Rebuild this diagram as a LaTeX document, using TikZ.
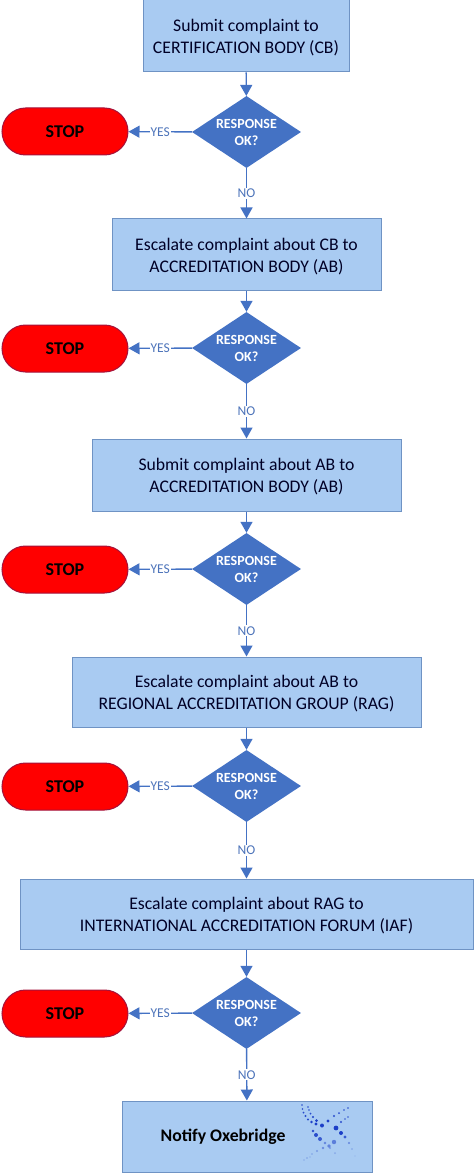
\documentclass[tikz,border=0pt]{standalone}
\usepackage{fontspec}
\setmainfont{Carlito}
\usetikzlibrary{shapes.geometric,shapes.misc,arrows.meta}
\definecolor{boxfill}{HTML}{A9CBF2}
\definecolor{boxline}{HTML}{6F93C4}
\definecolor{flow}{HTML}{4472C4}
\definecolor{stopline}{HTML}{A5123A}
\definecolor{logoblue}{HTML}{1C3FC8}
\newcommand{\lowerfirst}{\rule{0pt}{15.5pt}}
\tikzset{
  procbox/.style={draw=boxline,fill=boxfill,line width=1pt,minimum height=71pt,align=center,font=\fontsize{17.7}{22}\selectfont,text=black!85!blue,inner sep=0pt},
  decide/.style={diamond,aspect=1.5,fill=flow,minimum width=109pt,minimum height=72pt,inner sep=0pt,align=center,text=white,font=\bfseries\fontsize{14}{17}\selectfont},
  stopbox/.style={rounded rectangle,draw=stopline,fill=red,line width=1pt,minimum width=126pt,minimum height=47pt,inner sep=0pt,font=\bfseries\fontsize{18}{20}\selectfont,text=black},
  link/.style={draw=flow,line width=1.4pt,-{Triangle[length=11pt,width=12pt]}},
  lab/.style={fill=white,inner sep=1pt,text=flow!85!gray,font=\fontsize{13.5}{15}\selectfont},
}
\begin{document}
\begin{tikzpicture}[x=1pt,y=-1pt]
\useasboundingbox (0,0) rectangle (474,1174);
\node[procbox,minimum width=206pt,minimum height=72pt] (b1) at (246,36) {\lowerfirst Submit complaint to\\CERTIFICATION BODY (CB)};
\node[decide] (d1) at (246.5,132) {RESPONSE\\OK?};
\node[stopbox] (s1) at (65,131.5) {STOP};
\node[procbox,minimum width=269pt] (b2) at (246.5,254.5) {\lowerfirst Escalate complaint about CB to\\ACCREDITATION BODY (AB)};
\node[decide] (d2) at (246.5,348) {RESPONSE\\OK?};
\node[stopbox] (s2) at (65,348.5) {STOP};
\node[procbox,minimum width=309pt,minimum height=72pt] (b3) at (246.5,475) {\lowerfirst Submit complaint about AB to\\ACCREDITATION BODY (AB)};
\node[decide] (d3) at (246.5,569) {RESPONSE\\OK?};
\node[stopbox] (s3) at (65,569.5) {STOP};
\node[procbox,minimum width=349pt,minimum height=70pt] (b4) at (246.5,692) {\lowerfirst Escalate complaint about AB to\\REGIONAL ACCREDITATION GROUP (RAG)};
\node[decide] (d4) at (246.5,786) {RESPONSE\\OK?};
\node[stopbox] (s4) at (65,786.5) {STOP};
\node[procbox,minimum width=453pt,minimum height=70pt] (b5) at (246.5,914) {\lowerfirst Escalate complaint about RAG to\\INTERNATIONAL ACCREDITATION FORUM (IAF)};
\node[decide] (d5) at (246.5,1013) {RESPONSE\\OK?};
\node[stopbox] (s5) at (65,1013.5) {STOP};
\node[procbox,minimum width=250pt,minimum height=71pt,font=\bfseries\fontsize{17.7}{20}\selectfont,text=black] (b6) at (247,1136.5) {\makebox[0pt]{\hspace{-48pt}Notify Oxebridge}};
\foreach \i/\j in {1/2,2/3,3/4,4/5,5/6}{
  \draw[link] (b\i) -- (d\i);
  \draw[link] (d\i) -- node[lab] (y\i) {YES} (s\i);
  \draw[link] (d\i) -- node[lab,pos=.5] (n\i) {NO} (b\j);
}
\foreach \x/\y/\r/\o in {
 302/1105/.8/.9, 302.5/1109/.9/.9, 303.5/1112.5/1/.9, 305.5/1116/1.1/.9, 308/1119.5/1.2/.9, 311.5/1122/1.4/1, 316/1124/1.7/1, 322/1125.5/2/1,
 308/1107/.8/.9, 309/1110/.9/.9, 310.5/1113.5/1/.9, 313/1117/1.2/1, 316.5/1120.5/1.5/1,
 348/1108/.8/.9, 344/1110/.9/.9, 339/1113/1/.9, 334/1116/1.1/.9, 328/1121/1.6/1,
 348/1117/.8/.8, 345/1119/.9/.8, 341/1122/1.1/.9, 336/1128/2.4/1, 341/1133/2/1, 345/1137/1.6/.8, 349/1143/1.1/.5, 352/1149/.9/.3, 355/1156/.7/.2,
 313/1131/1.4/.9, 316/1135/2/.9, 320/1139/2/.8, 325/1143/1.4/.5, 330/1148/1.2/.35, 335/1153/1/.25,
 334/1142/2.2/.55, 329/1146/1.9/.5, 323/1148/1.4/.45, 317/1151/1.1/.35, 312/1154/.9/.3, 307/1158/.8/.3,
 304/1160/.7/.45, 310/1157/.7/.35}{
  \fill[logoblue,opacity=\o] (\x,\y) circle (\r);
}
\end{tikzpicture}
\end{document}
